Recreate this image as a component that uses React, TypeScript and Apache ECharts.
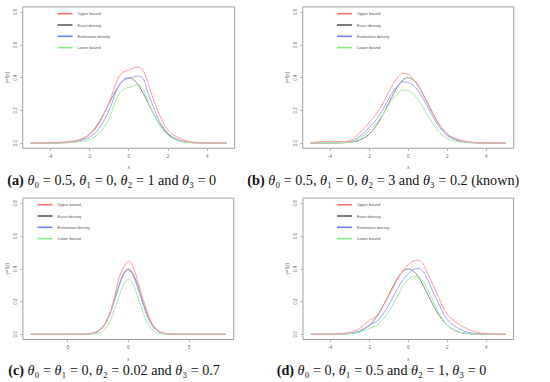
import React, { useEffect, useRef } from "react";
import * as echarts from "echarts";

const SERIES_NAMES = ["Upper bound", "Exact density", "Estimation density", "Lower bound"];
const LINE_COLORS = ["#ff9c9c", "#8c8c8c", "#a0a6ff", "#a4eca4"];
const LEGEND_COLORS = ["#ff7070", "#5a5a5a", "#7080ff", "#80ee80"];

const A_X = [-5, -4.5, -4, -3.5, -3, -2.5, -2, -1.5, -1, -0.75, -0.5, -0.25, 0, 0.25, 0.5, 0.75, 1, 1.25, 1.5, 2, 2.5, 3, 3.5, 4, 4.5, 5];
const A_UPPER = [0, 0.0005, 0.002, 0.005, 0.01, 0.022, 0.05, 0.12, 0.25, 0.33, 0.405, 0.435, 0.445, 0.46, 0.463, 0.44, 0.36, 0.27, 0.19, 0.078, 0.035, 0.012, 0.004, 0.001, 0, 0];
const A_EXACT = [0, 0, 0.0001, 0.0009, 0.0044, 0.0175, 0.054, 0.13, 0.242, 0.301, 0.352, 0.387, 0.399, 0.387, 0.352, 0.301, 0.242, 0.183, 0.13, 0.054, 0.0175, 0.0044, 0.0009, 0.0001, 0, 0];
const A_EST = [0, 0, 0.001, 0.003, 0.007, 0.015, 0.035, 0.09, 0.2, 0.28, 0.35, 0.385, 0.395, 0.405, 0.41, 0.39, 0.3, 0.225, 0.15, 0.06, 0.022, 0.007, 0.002, 0.0005, 0, 0];
const A_LOWER = [0, 0, 0.0003, 0.001, 0.003, 0.008, 0.02, 0.06, 0.15, 0.23, 0.3, 0.33, 0.34, 0.35, 0.355, 0.325, 0.25, 0.185, 0.125, 0.048, 0.015, 0.004, 0.001, 0, 0, 0];

const B_X = [-5, -4.5, -4, -3.5, -3, -2.5, -2, -1.5, -1, -0.75, -0.5, -0.25, 0, 0.25, 0.5, 0.75, 1, 1.5, 2, 2.5, 3, 3.5, 4, 4.5, 5];
const B_UPPER = [0.002, 0.008, 0.011, 0.009, 0.015, 0.06, 0.125, 0.2, 0.31, 0.365, 0.405, 0.427, 0.42, 0.395, 0.355, 0.3, 0.245, 0.13, 0.055, 0.025, 0.01, 0.004, 0.001, 0, 0];
const B_EXACT = [0, 0, 0.0001, 0.0009, 0.0044, 0.0175, 0.054, 0.13, 0.242, 0.301, 0.352, 0.387, 0.399, 0.387, 0.352, 0.301, 0.242, 0.13, 0.054, 0.0175, 0.0044, 0.0009, 0.0001, 0, 0];
const B_EST = [0.001, 0.004, 0.006, 0.005, 0.008, 0.04, 0.095, 0.165, 0.27, 0.32, 0.355, 0.375, 0.37, 0.355, 0.32, 0.275, 0.22, 0.115, 0.045, 0.018, 0.006, 0.002, 0.0005, 0, 0];
const B_LOWER = [0.001, 0.003, 0.004, 0.003, 0.005, 0.03, 0.075, 0.14, 0.23, 0.275, 0.305, 0.325, 0.32, 0.3, 0.265, 0.22, 0.17, 0.08, 0.027, 0.01, 0.003, 0.001, 0, 0, 0];

const C_X = [-8, -7, -6, -5, -4, -3.5, -3, -2.5, -2, -1.5, -1, -0.75, -0.5, -0.25, 0, 0.25, 0.5, 0.75, 1, 1.5, 2, 2.5, 3, 3.5, 4, 5, 6, 7, 8];
const C_UPPER = [0, 0, 0, 0, 0.0002, 0.001, 0.006, 0.02, 0.05, 0.13, 0.27, 0.35, 0.39, 0.425, 0.447, 0.435, 0.39, 0.33, 0.265, 0.15, 0.06, 0.02, 0.006, 0.001, 0.0002, 0, 0, 0, 0];
const C_EXACT = [0, 0, 0, 0, 0.0001, 0.0009, 0.0044, 0.0175, 0.054, 0.13, 0.242, 0.301, 0.352, 0.387, 0.399, 0.387, 0.352, 0.301, 0.242, 0.13, 0.054, 0.0175, 0.0044, 0.0009, 0.0001, 0, 0, 0, 0];
const C_EST = [0, 0, 0, 0, 0.0001, 0.0008, 0.004, 0.016, 0.05, 0.125, 0.235, 0.295, 0.345, 0.38, 0.39, 0.378, 0.34, 0.29, 0.232, 0.12, 0.048, 0.015, 0.004, 0.001, 0, 0, 0, 0, 0];
const C_LOWER = [0, 0, 0, 0, 0, 0.0003, 0.001, 0.005, 0.025, 0.08, 0.18, 0.235, 0.285, 0.32, 0.336, 0.322, 0.285, 0.235, 0.18, 0.08, 0.025, 0.005, 0.001, 0.0003, 0, 0, 0, 0, 0];

const D_X = [-5, -4.5, -4, -3.5, -3, -2.5, -2, -1.75, -1.5, -1, -0.75, -0.5, -0.25, 0, 0.25, 0.5, 0.75, 1, 1.5, 2, 2.5, 3, 3.5, 4, 4.5, 5];
const D_UPPER = [0, 0.0005, 0.001, 0.004, 0.012, 0.035, 0.085, 0.1, 0.13, 0.235, 0.29, 0.345, 0.395, 0.425, 0.447, 0.453, 0.43, 0.37, 0.24, 0.12, 0.07, 0.035, 0.012, 0.003, 0.001, 0];
const D_EXACT = [0, 0, 0.0001, 0.0009, 0.0044, 0.0175, 0.054, 0.086, 0.13, 0.242, 0.301, 0.352, 0.387, 0.399, 0.387, 0.352, 0.301, 0.242, 0.13, 0.054, 0.0175, 0.0044, 0.0009, 0.0001, 0, 0];
const D_EST = [0, 0, 0.0005, 0.002, 0.007, 0.02, 0.055, 0.07, 0.09, 0.18, 0.235, 0.29, 0.335, 0.37, 0.395, 0.403, 0.385, 0.33, 0.2, 0.09, 0.04, 0.014, 0.004, 0.001, 0, 0];
const D_LOWER = [0, 0, 0.0003, 0.001, 0.004, 0.012, 0.035, 0.048, 0.065, 0.14, 0.19, 0.245, 0.3, 0.335, 0.352, 0.35, 0.325, 0.27, 0.145, 0.055, 0.018, 0.005, 0.001, 0, 0, 0];

const X_TICKS_ABD = [-4, -2, 0, 2, 4];
const X_TICKS_C = [-5, 0, 5];
const Y_TICKS = [0, 0.2, 0.4, 0.6, 0.8];

const CAPTION_A = [["b", "(a)"], ["n", " "], ["i", "θ"], ["n", "₀ = 0.5, "], ["i", "θ"], ["n", "₁ = 0, "], ["i", "θ"], ["n", "₂ = 1 and "], ["i", "θ"], ["n", "₃ = 0"]];
const CAPTION_B = [["b", "(b)"], ["n", " "], ["i", "θ"], ["n", "₀ = 0.5, "], ["i", "θ"], ["n", "₁ = 0, "], ["i", "θ"], ["n", "₂ = 3 and "], ["i", "θ"], ["n", "₃ = 0.2 (known)"]];
const CAPTION_C = [["b", "(c)"], ["n", " "], ["i", "θ"], ["n", "₀ = "], ["i", "θ"], ["n", "₁ = 0, "], ["i", "θ"], ["n", "₂ = 0.02 and "], ["i", "θ"], ["n", "₃ = 0.7"]];
const CAPTION_D = [["b", "(d)"], ["n", " "], ["i", "θ"], ["n", "₀ = 0, "], ["i", "θ"], ["n", "₁ = 0.5 and "], ["i", "θ"], ["n", "₂ = 1, "], ["i", "θ"], ["n", "₃ = 0"]];

const PANELS = [
  { x: A_X, ys: [A_UPPER, A_EXACT, A_EST, A_LOWER], min: -5.4, max: 5.4, ticks: X_TICKS_ABD, grid: { left: 22.7, top: 6.9, width: 212, height: 141.4 }, legend: { left: 57.5, top: 10.7 } },
  { x: B_X, ys: [B_UPPER, B_EXACT, B_EST, B_LOWER], min: -5.4, max: 5.4, ticks: X_TICKS_ABD, grid: { left: 302.7, top: 6.9, width: 211, height: 141.4 }, legend: { left: 337, top: 10.7 } },
  { x: C_X, ys: [C_UPPER, C_EXACT, C_EST, C_LOWER], min: -8.64, max: 8.64, ticks: X_TICKS_C, grid: { left: 22.9, top: 198.1, width: 210.8, height: 141.4 }, legend: { left: 37.5, top: 201.7 } },
  { x: D_X, ys: [D_UPPER, D_EXACT, D_EST, D_LOWER], min: -5.4, max: 5.4, ticks: X_TICKS_ABD, grid: { left: 303, top: 198.1, width: 210.6, height: 141.4 }, legend: { left: 337, top: 201.7 } },
];

const CAPTIONS = [
  { parts: CAPTION_A, x: 7.3, y: 179.5 },
  { parts: CAPTION_B, x: 247.3, y: 179.5 },
  { parts: CAPTION_C, x: 8.3, y: 370 },
  { parts: CAPTION_D, x: 276.7, y: 370 },
];

const AXIS_TEXT = "#6a6a6a";
const BOX = "#a0a0a0";
const SANS = "Liberation Sans";
const SERIF = "Liberation Serif";
const CAP_SIZE = 14.2;

export default function App() {
  const ref = useRef<HTMLDivElement>(null);
  useEffect(() => {
    if (!ref.current) return;
    const chart = echarts.init(ref.current, undefined, { renderer: "svg" });
    const drawOrder = [1, 2, 3, 0];
    const option: any = {
      animation: false,
      backgroundColor: "#ffffff",
      grid: PANELS.map((p) => ({ ...p.grid, show: true, borderColor: BOX, borderWidth: 1, backgroundColor: "transparent" })),
      xAxis: PANELS.map((p, i) => ({
        gridIndex: i,
        type: "value",
        min: p.min,
        max: p.max,
        position: "bottom",
        axisLine: { show: false, onZero: false },
        splitLine: { show: false },
        axisTick: { show: true, customValues: p.ticks, length: 2.5, lineStyle: { color: BOX, width: 0.8 } },
        axisLabel: { customValues: p.ticks, fontSize: 4.5, color: AXIS_TEXT, margin: 5.5, fontFamily: SANS, formatter: (v: number) => String(v) },
        name: "x",
        nameLocation: "middle",
        nameGap: 16.5,
        nameTextStyle: { fontSize: 5, color: AXIS_TEXT, fontFamily: SANS },
      })),
      yAxis: PANELS.map((p, i) => ({
        gridIndex: i,
        type: "value",
        min: -0.032,
        max: 0.832,
        position: "left",
        axisLine: { show: false, onZero: false },
        splitLine: { show: false },
        axisTick: { show: true, customValues: Y_TICKS, length: 2.5, lineStyle: { color: BOX, width: 0.8 } },
        axisLabel: { customValues: Y_TICKS, fontSize: 4.5, color: AXIS_TEXT, margin: 5, rotate: 90, fontFamily: SANS, formatter: (v: number) => v.toFixed(1) },
        name: "y=f(x)",
        nameLocation: "middle",
        nameGap: 13,
        nameTextStyle: { fontSize: 4.5, color: AXIS_TEXT, fontFamily: SANS },
      })),
      legend: PANELS.map((p) => ({
        left: p.legend.left,
        top: p.legend.top,
        orient: "vertical",
        padding: 0,
        itemWidth: 15,
        itemHeight: 1.6,
        itemGap: 5.3,
        icon: "rect",
        selectedMode: false,
        textStyle: { fontSize: 4, lineHeight: 6, color: "#555", fontFamily: SANS },
        data: SERIES_NAMES.map((n, k) => ({ name: n, itemStyle: { color: LEGEND_COLORS[k] } })),
      })),
      series: PANELS.flatMap((p, i) =>
        drawOrder.map((k) => ({
          type: "line",
          name: SERIES_NAMES[k],
          xAxisIndex: i,
          yAxisIndex: i,
          data: p.x.map((xv, j) => [xv, p.ys[k][j]]),
          smooth: 0.35,
          showSymbol: false,
          symbol: "none",
          lineStyle: { color: LINE_COLORS[k], width: 1 },
          itemStyle: { color: LEGEND_COLORS[k] },
          silent: true,
          z: 2,
        }))
      ),
      graphic: CAPTIONS.map((c) => ({
        type: "text",
        x: c.x,
        y: c.y,
        style: {
          text: c.parts.map(([s, t]) => `{${s}|${t}}`).join(""),
          verticalAlign: "middle",
          rich: {
            b: { fontFamily: SERIF, fontSize: CAP_SIZE, fontWeight: "bold", fill: "#111" },
            i: { fontFamily: SERIF, fontSize: CAP_SIZE, fontStyle: "italic", fill: "#111" },
            n: { fontFamily: SERIF, fontSize: CAP_SIZE, fill: "#111" },
          },
        },
      })),
    };
    chart.setOption(option);
    return () => chart.dispose();
  }, []);
  return <div ref={ref} style={{ position: "absolute", left: 0, top: 0, width: 550, height: 382, background: "#fff" }} />;
}
